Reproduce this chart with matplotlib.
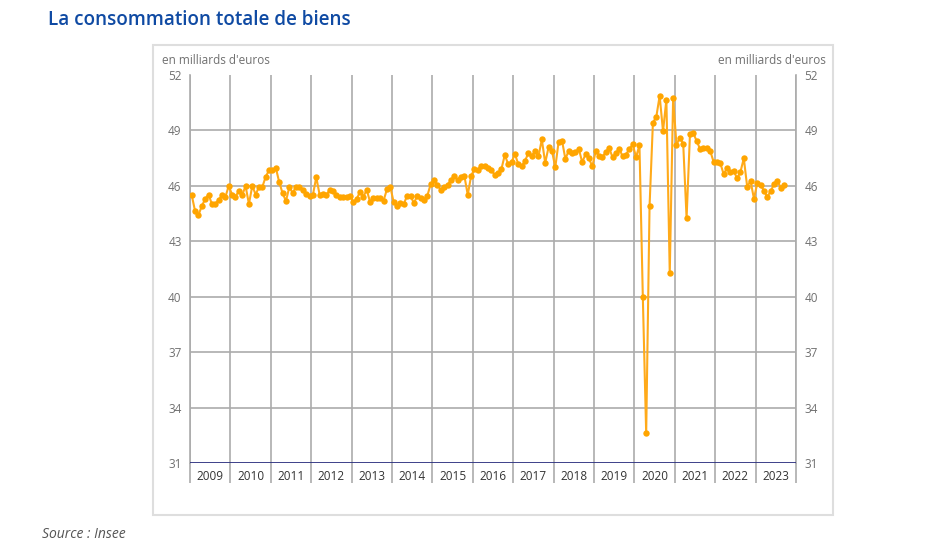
import matplotlib.pyplot as plt
import numpy as np
from matplotlib.patches import Rectangle

# monthly values, billions of euros, Jan 2009 -> Sep 2023
v2009 = [45.51, 44.64, 44.41, 44.91, 45.28, 45.53, 45.02, 45.02, 45.24, 45.49, 45.39, 46.0]
v2010 = [45.53, 45.42, 45.71, 45.49, 46.0, 45.02, 46.0, 45.53, 45.95, 45.95, 46.5, 46.85]
v2011 = [46.85, 46.97, 46.2, 45.6, 45.18, 45.93, 45.62, 45.95, 45.95, 45.78, 45.58, 45.44]
v2012 = [45.5, 46.47, 45.52, 45.57, 45.52, 45.77, 45.7, 45.5, 45.42, 45.42, 45.42, 45.46]
v2013 = [45.12, 45.28, 45.69, 45.42, 45.78, 45.12, 45.33, 45.33, 45.33, 45.2, 45.82, 45.96]
v2014 = [45.1, 44.92, 45.06, 45.03, 45.46, 45.46, 45.06, 45.46, 45.33, 45.24, 45.46, 46.11]
v2015 = [46.29, 46.05, 45.78, 45.96, 46.05, 46.32, 46.54, 46.32, 46.5, 46.54, 45.51, 46.54]
v2016 = [46.92, 46.87, 47.08, 47.07, 46.95, 46.87, 46.58, 46.69, 46.91, 47.67, 47.18, 47.27]
v2017 = [47.73, 47.18, 47.05, 47.36, 47.76, 47.64, 47.87, 47.6, 48.51, 47.24, 48.09, 47.91]
v2018 = [47.0, 48.4, 48.45, 47.45, 47.91, 47.78, 47.82, 48.0, 47.27, 47.73, 47.49, 47.05]
v2019 = [47.87, 47.64, 47.58, 47.82, 48.05, 47.55, 47.76, 48.0, 47.6, 47.69, 48.0, 48.24]
v2020 = [47.55, 48.22, 40.0, 32.6, 44.9, 49.42, 49.73, 50.87, 48.95, 50.67, 41.28, 50.73]
v2021 = [48.22, 48.6, 48.27, 44.25, 48.78, 48.85, 48.42, 48.0, 48.05, 48.05, 47.91, 47.31]
v2022 = [47.27, 47.24, 46.64, 46.95, 46.73, 46.82, 46.4, 46.76, 47.49, 45.95, 46.27, 45.31]
v2023 = [46.13, 46.04, 45.73, 45.4, 45.73, 46.09, 46.24, 45.91, 46.05]

years = list(range(2009, 2024))
y_ticks = [31, 34, 37, 40, 43, 46, 49, 52]

values = np.array(v2009 + v2010 + v2011 + v2012 + v2013 + v2014 + v2015 + v2016
                  + v2017 + v2018 + v2019 + v2020 + v2021 + v2022 + v2023)
x = 2009 + (np.arange(len(values)) + 0.5) / 12

fig = plt.figure(figsize=(9.3, 5.46), dpi=100)
plt.rcParams['font.family'] = ['Open Sans', 'DejaVu Sans']

# frame around the chart
fig.patches.append(Rectangle((153 / 930, 1 - 515 / 546), 680 / 930, 470 / 546,
                             transform=fig.transFigure, fill=False,
                             edgecolor='#dedede', linewidth=1.5))

fig.text(48 / 930, 1 - 20 / 546, "La consommation totale de biens", fontsize=13.6,
         fontweight='semibold', color='#0f4aa3', va='center', ha='left')
fig.text(42 / 930, 1 - 534 / 546, "Source : Insee", fontsize=10, style='italic',
         color='#555555', va='center', ha='left')
fig.text(162 / 930, 1 - 61 / 546, "en milliards d'euros", fontsize=8.5,
         color='#707070', va='center', ha='left')
fig.text(826 / 930, 1 - 61 / 546, "en milliards d'euros", fontsize=8.5,
         color='#707070', va='center', ha='right')

ax = fig.add_axes([190 / 930, 1 - 463 / 546, 606 / 930, 388 / 546])
ax.set_xlim(2009, 2024)
ax.set_ylim(31, 52)

grid_col = '#ababab'
for yv in y_ticks[1:-1]:
    ax.axhline(yv, color=grid_col, linewidth=1.2, zorder=1)
ax.axhline(31, color='#2b2f7f', linewidth=2, zorder=3)

ax.plot(x, values, color='#ffaa1a', linewidth=1.5, marker='o', markersize=4.6,
        markerfacecolor='#ffa500', markeredgewidth=0, zorder=4)

# year separators go through the plot and below it
ax.set_xticks(range(2009, 2025))
ax.set_xticklabels([])
ax.xaxis.grid(True, color=grid_col, linewidth=1.2, zorder=1)
ax.tick_params(axis='x', which='major', length=14.5, width=1.2, color=grid_col)
ax.set_xticks([yr + 0.5 for yr in years], minor=True)
ax.set_xticklabels([str(yr) for yr in years], minor=True)
ax.tick_params(axis='x', which='minor', length=0, pad=5, labelsize=8.5, labelcolor='#333333')

ax.set_yticks(y_ticks)
ax.tick_params(axis='y', length=0, pad=6, labelsize=8.5, labelcolor='#707070',
               right=True, labelright=True)

for side in ['top', 'bottom']:
    ax.spines[side].set_visible(False)
for side in ['left', 'right']:
    ax.spines[side].set_color(grid_col)
    ax.spines[side].set_linewidth(1.2)

fig.savefig("out.png", dpi=100)
